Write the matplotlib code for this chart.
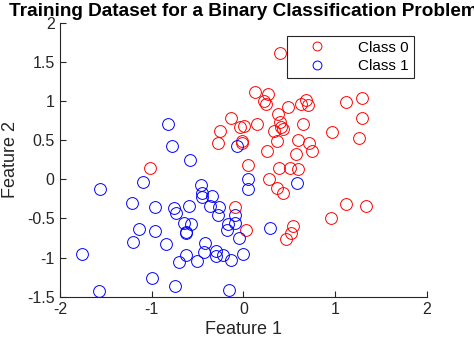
import matplotlib
matplotlib.use("Agg")
import matplotlib.pyplot as plt
import numpy as np

# class 0 (red) points
class0_x = [0.40, 0.13, 0.27, 0.23, 0.25, 0.49, 0.68, 0.63, 0.70, 1.12,
            1.30, 0.38, 1.30, 0.15, 0.40, 0.41, 0.65, 0.01, -0.04, 0.33,
            0.43, 0.97, 0.37, 0.60, 0.72, 1.26, 0.26, 0.57, 0.75, -0.13,
            -0.25, -0.28, -0.02, -0.01, -1.02, 0.05, -0.09, 0.03, 0.39, 0.51,
            0.60, 0.28, 0.37, 0.43, 1.12, 1.34, 0.96, 0.54, 0.52, 0.46]
class0_y = [1.61, 1.12, 1.09, 1.00, 0.97, 0.93, 1.02, 0.97, 0.95, 0.99,
            1.04, 0.83, 0.79, 0.71, 0.74, 0.67, 0.71, 0.68, 0.67, 0.62,
            0.64, 0.61, 0.49, 0.50, 0.47, 0.53, 0.36, 0.32, 0.36, 0.79,
            0.62, 0.47, 0.49, 0.46, 0.15, 0.19, -0.35, -0.65, 0.15, 0.14,
            0.13, 0.01, -0.11, -0.18, -0.32, -0.34, -0.49, -0.60, -0.68, -0.76]

# class 1 (blue) points
class1_x = [-0.82, -0.78, -0.58, -0.07, -1.10, -1.57, 0.05, 0.05, -0.46, -0.45,
            -0.45, -0.34, -1.22, -0.97, -0.76, -0.74, -0.59, -0.36, -0.27, -0.28,
            -0.09, -0.65, -0.57, -0.63, -0.63, -0.17, -0.18, -0.09, -1.14, -0.97,
            -0.05, -1.21, -0.85, -0.42, -0.43, -0.30, -0.30, -0.22, -0.63, -0.70,
            -0.51, -0.13, 0.00, -1.76, -1.00, -0.75, -1.58, -0.16, 0.59, 0.29]
class1_y = [0.71, 0.43, 0.25, 0.43, -0.03, -0.12, 0.00, -0.12, -0.07, -0.17,
            -0.23, -0.21, -0.30, -0.35, -0.36, -0.43, -0.34, -0.34, -0.35, -0.46,
            -0.46, -0.56, -0.57, -0.67, -0.69, -0.57, -0.65, -0.56, -0.63, -0.66,
            -0.75, -0.80, -0.82, -0.81, -0.93, -0.92, -0.98, -0.97, -0.97, -1.05,
            -1.04, -1.03, -0.95, -0.96, -1.26, -1.36, -1.43, -1.42, -0.04, -0.62]

xticks = [-2, -1, 0, 1, 2]
xtick_labels = ["-2", "-1", "0", "1", "2"]
yticks = [-1.5, -1, -0.5, 0, 0.5, 1, 1.5, 2]
ytick_labels = ["-1.5", "-1", "-0.5", "0", "0.5", "1", "1.5", "2"]

plt.rcParams['font.family'] = ['Liberation Sans', 'DejaVu Sans']
dark = (0.15, 0.15, 0.15)

fig = plt.figure(figsize=(4.74, 3.48), dpi=100)
ax = fig.add_axes([0.127, 0.1474, 0.773, 0.7866])

ax.plot(class0_x, class0_y, 'o', linestyle='none', markersize=8.5,
        markerfacecolor='none', markeredgecolor='r', markeredgewidth=0.7, label='Class 0')
ax.plot(class1_x, class1_y, 'o', linestyle='none', markersize=8.5,
        markerfacecolor='none', markeredgecolor='b', markeredgewidth=0.7, label='Class 1')

ax.set_xlim(-2, 2)
ax.set_ylim(-1.5, 2)
ax.set_xticks(xticks)
ax.set_xticklabels(xtick_labels)
ax.set_yticks(yticks)
ax.set_yticklabels(ytick_labels)

for s in ['top', 'right']:
    ax.spines[s].set_visible(False)
for s in ['left', 'bottom']:
    ax.spines[s].set_color(dark)
    ax.spines[s].set_linewidth(0.8)
ax.tick_params(direction='in', length=4, width=0.8, colors=dark, labelsize=11.5, pad=4)

ax.set_xlabel("Feature 1", fontsize=13, color=dark, labelpad=3)
ax.set_ylabel("Feature 2", fontsize=13, color=dark, labelpad=6)
ax.set_title("Training Dataset for a Binary Classification Problem",
             fontsize=13.7, fontweight='bold', pad=5)

leg = ax.legend(loc='upper right', fontsize=11, frameon=True, fancybox=False,
                borderpad=0.3, labelspacing=0.32, handlelength=3.4, handletextpad=1.0,
                borderaxespad=0.85, framealpha=1, markerscale=0.75)
leg.get_frame().set_edgecolor(dark)
leg.get_frame().set_linewidth(0.8)

fig.savefig("out.png", dpi=100)
